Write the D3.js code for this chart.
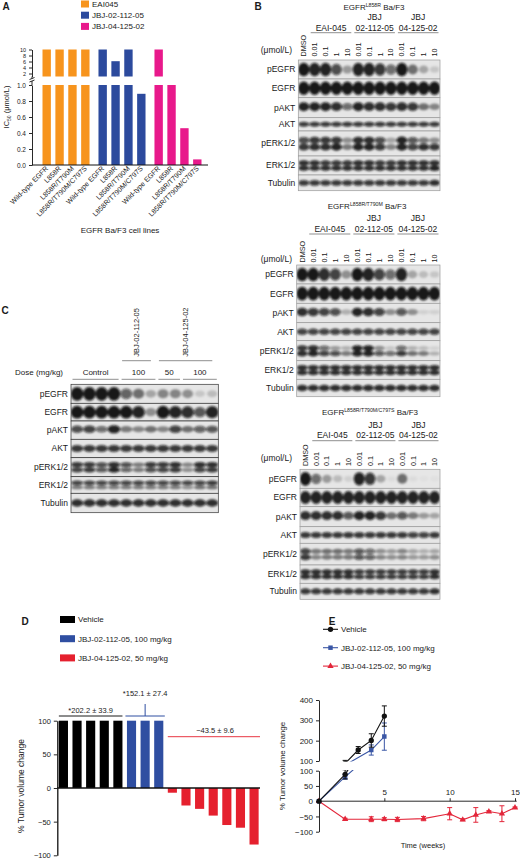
<!DOCTYPE html>
<html>
<head>
<meta charset="utf-8">
<script src="https://cdn.jsdelivr.net/npm/d3@7"></script>
<style>
  body { margin: 0; background: #fff; }
  svg text { font-family: "Liberation Sans", Arial, Helvetica, sans-serif; fill: #1a1a1a; }
</style>
</head>
<body>
<svg id="fig" width="520" height="860"></svg>
<script>
// ---------- panel A data ----------
const cellLines = ['Wild-type EGFR', 'L858R', 'L858R/T790M', 'L858R/T790M/C797S'];
const compounds = ['EAI045', 'JBJ-02-112-05', 'JBJ-04-125-02'];
const ic50EAI = [10, 10, 10, 10];
const ic50JBJ02 = [10, 6.1, 10, 0.89];
const ic50JBJ04 = [10, 1.0, 0.46, 0.07];
const ic50UpperTicks = [2, 4, 6, 8, 10];
const ic50LowerTicks = [0, 0.2, 0.4, 0.6, 0.8, 1.0];

// ---------- western blots (band intensity 0..1 per lane) ----------
const blotRows = ['pEGFR', 'EGFR', 'pAKT', 'AKT', 'pERK1/2', 'ERK1/2', 'Tubulin'];
const lanesB = ['DMSO', '0.01', '0.1', '1', '10', '0.01', '0.1', '1', '10', '0.01', '0.1', '1', '10'];
const groupsB = [
  { top: '', name: 'EAI-045', from: 1, to: 4 },
  { top: 'JBJ', name: '02-112-05', from: 5, to: 8 },
  { top: 'JBJ', name: '04-125-02', from: 9, to: 12 }
];
// rows: pEGFR, EGFR, pAKT, AKT, pERK (upper), ERK (upper), Tubulin
const l858rBands = [
  [1.0, 0.95, 0.95, 0.75, 0.35, 0.95, 0.95, 0.85, 0.6, 1.0, 0.55, 0.3, 0.15],
  [1.0, 1.0, 1.0, 1.0, 1.0, 1.0, 1.0, 1.0, 1.0, 1.0, 1.0, 1.0, 1.0],
  [0.95, 0.95, 0.95, 0.9, 0.6, 0.95, 0.9, 0.9, 0.85, 0.9, 0.85, 0.55, 0.45],
  [0.85, 0.85, 0.85, 0.85, 0.85, 0.85, 0.85, 0.85, 0.85, 0.85, 0.85, 0.85, 0.85],
  [0.75, 0.85, 0.85, 0.85, 0.4, 0.9, 0.9, 0.75, 0.3, 0.95, 0.7, 0.5, 0.4],
  [0.9, 0.9, 0.85, 0.85, 0.85, 0.9, 0.9, 0.85, 0.85, 0.9, 0.9, 0.9, 0.9],
  [0.85, 0.85, 0.85, 0.85, 0.85, 0.85, 0.85, 0.85, 0.85, 0.85, 0.85, 0.85, 0.9]
];
const l858rLower = [
  [0.85, 0.9, 0.9, 0.95, 0.5, 0.95, 0.95, 0.85, 0.45, 0.95, 0.8, 0.9, 0.85],
  [0.9, 0.9, 0.9, 0.9, 0.9, 0.9, 0.9, 0.9, 0.9, 0.9, 0.9, 0.9, 0.95]
];
const t790mBands = [
  [1.0, 1.0, 0.9, 0.8, 0.4, 1.0, 0.95, 0.8, 0.6, 0.95, 0.3, 0.2, 0.15],
  [1.0, 1.0, 1.0, 1.0, 1.0, 1.0, 1.0, 1.0, 1.0, 1.0, 1.0, 1.0, 1.0],
  [0.9, 0.85, 0.8, 0.75, 0.25, 0.95, 0.9, 0.8, 0.4, 0.7, 0.4, 0.1, 0.1],
  [0.8, 0.8, 0.8, 0.8, 0.8, 0.8, 0.8, 0.8, 0.8, 0.8, 0.8, 0.8, 0.8],
  [0.85, 0.9, 0.6, 0.35, 0.25, 0.95, 0.95, 0.4, 0.15, 0.6, 0.25, 0.2, 0.1],
  [0.9, 0.9, 0.9, 0.9, 0.9, 0.9, 0.9, 0.9, 0.9, 0.9, 0.9, 0.9, 0.9],
  [0.9, 0.9, 0.9, 0.9, 0.9, 0.9, 0.9, 0.9, 0.9, 0.9, 0.9, 0.9, 0.9]
];
const t790mLower = [
  [0.9, 0.95, 0.8, 0.75, 0.5, 0.95, 0.95, 0.7, 0.6, 0.85, 0.55, 0.5, 0.25],
  [0.9, 0.9, 0.9, 0.9, 0.9, 0.9, 0.9, 0.9, 0.9, 0.9, 0.9, 0.9, 0.9]
];
const c797sBands = [
  [1.0, 0.6, 0.35, 0.2, 0.1, 0.95, 0.85, 0.3, 0.05, 0.55, 0.05, 0.03, 0.03],
  [0.95, 0.95, 0.95, 0.95, 0.95, 0.95, 0.95, 0.95, 0.95, 0.95, 0.95, 0.95, 0.95],
  [0.9, 0.9, 0.9, 0.9, 0.7, 0.95, 0.95, 0.85, 0.55, 0.7, 0.5, 0.35, 0.3],
  [0.85, 0.85, 0.85, 0.85, 0.85, 0.85, 0.85, 0.85, 0.85, 0.85, 0.8, 0.8, 0.85],
  [0.8, 0.5, 0.55, 0.55, 0.5, 0.7, 0.6, 0.4, 0.35, 0.45, 0.3, 0.25, 0.3],
  [0.9, 0.9, 0.9, 0.9, 0.9, 0.85, 0.85, 0.85, 0.85, 0.85, 0.85, 0.85, 0.9],
  [0.85, 0.85, 0.85, 0.85, 0.85, 0.85, 0.85, 0.85, 0.85, 0.85, 0.85, 0.85, 0.9]
];
const c797sLower = [
  [0.85, 0.45, 0.5, 0.5, 0.5, 0.7, 0.65, 0.45, 0.4, 0.45, 0.35, 0.35, 0.4],
  [0.9, 0.9, 0.9, 0.9, 0.9, 0.85, 0.85, 0.85, 0.85, 0.85, 0.85, 0.85, 0.9]
];

// panel C (xenograft lysates)
const dosesC = [
  { name: 'Control', from: 0, to: 3 },
  { name: '100', from: 4, to: 6 },
  { name: '50', from: 7, to: 8 },
  { name: '100', from: 9, to: 11 }
];
const drugsC = [
  { name: 'JBJ-02-112-05', from: 4, to: 6 },
  { name: 'JBJ-04-125-02', from: 7, to: 11 }
];
const tumorBands = [
  [1.0, 1.0, 1.0, 1.0, 0.65, 0.55, 0.3, 0.45, 0.45, 0.4, 0.15, 0.2],
  [1.0, 1.0, 1.0, 1.0, 1.0, 0.95, 0.4, 1.0, 0.95, 0.9, 0.7, 0.95],
  [0.75, 0.8, 0.6, 0.95, 0.5, 0.45, 0.55, 0.45, 0.8, 0.55, 0.65, 0.7],
  [0.85, 0.85, 0.85, 0.85, 0.85, 0.85, 0.85, 0.85, 0.85, 0.85, 0.85, 0.85],
  [0.85, 0.85, 0.75, 0.9, 0.75, 0.5, 0.85, 0.85, 0.9, 0.45, 0.9, 0.9],
  [0.8, 0.8, 0.8, 0.8, 0.8, 0.8, 0.8, 0.8, 0.8, 0.8, 0.8, 0.85],
  [0.9, 0.9, 0.9, 0.9, 0.9, 0.9, 0.9, 0.9, 0.9, 0.9, 0.9, 0.9]
];
const tumorLower = [
  [0.8, 0.85, 0.7, 0.95, 0.65, 0.5, 0.75, 0.8, 0.85, 0.4, 0.8, 0.85],
  [0.5, 0.5, 0.5, 0.5, 0.5, 0.5, 0.5, 0.5, 0.5, 0.4, 0.55, 0.55]
];

// ---------- panel D data (waterfall, capped at 100) ----------
const vehicleChange = [100, 100, 100, 100, 100];
const jbj02Change = [100, 100, 100];
const jbj04Change = [-7, -26, -31, -41, -55, -59, -84];
const dTicks = [100, 50, 0, -50, -100];

// ---------- panel E data ----------
const vehicleWeeks = [0, 2, 3, 4, 5];
const vehicleMean = [0, 88, 154, 201, 321];
const vehicleErr = [0, 15, 17, 33, 50];
const jbj02Weeks = [0, 2, 4, 5];
const jbj02Mean = [0, 80, 154, 220];
const jbj02Err = [0, 8, 25, 67];
const jbj04Weeks = [0, 2, 4, 5, 6, 8, 10, 11, 12, 13, 14, 15];
const jbj04Mean = [0, -59, -59, -59, -60, -57, -41, -61, -45, -34, -41, -21];
const jbj04Err = [0, 3, 8, 5, 7, 7, 20, 3, 24, 3, 26, 2];
const eUpperTicks = [100, 200, 300, 400];
const eLowerTicks = [-100, -50, 0, 50, 100];
const eWeekTicks = [5, 10, 15];

// ======================================================
const svg = d3.select('#fig');
const defs = svg.append('defs');
defs.append('filter').attr('id', 'blur')
  .attr('x', '-50%').attr('y', '-50%').attr('width', '200%').attr('height', '200%')
  .append('feGaussianBlur').attr('stdDeviation', 1.05);

let clipCount = 0;
function addClip(x, y, w, h) {
  const id = 'clip' + (clipCount++);
  defs.append('clipPath').attr('id', id)
    .append('rect').attr('x', x).attr('y', y).attr('width', w).attr('height', h);
  return `url(#${id})`;
}

// text centred vertically on yc
function addText(g, x, yc, str, size, anchor) {
  return g.append('text')
    .attr('x', x).attr('y', yc + size * 0.35)
    .attr('font-size', size)
    .attr('text-anchor', anchor || 'start')
    .text(str);
}

function styleAxis(g, size) {
  g.attr('font-family', null).attr('font-size', null);
  g.selectAll('text').attr('font-size', size);
  g.selectAll('path, line').attr('stroke', '#111').attr('stroke-width', 0.9);
}

function panelLetter(x, y, s) {
  addText(svg, x, y, s, 10, 'middle').attr('font-weight', 'bold');
}

panelLetter(6, 6, 'A');
panelLetter(258, 6, 'B');
panelLetter(5, 310, 'C');
panelLetter(25, 621, 'D');
panelLetter(332, 621, 'E');

// ---------------- Panel A ----------------
const gA = svg.append('g');
const colorsA = ['#f7941d', '#2c4a9d', '#e8198b'];
const ic50 = [ic50EAI, ic50JBJ02, ic50JBJ04];

const xGroup = d3.scaleBand().domain(compounds).range([42.5, 201.5]).paddingInner(0.16);
const xLine = d3.scaleBand().domain(cellLines).range([0, xGroup.bandwidth()]).paddingInner(0.35);
const yLow = d3.scaleLinear().domain([0, 1]).range([165, 85]);
const yUp = d3.scaleLinear().domain([1, 10]).range([76.5, 49.5]);

compounds.forEach((c, ci) => {
  cellLines.forEach((cl, li) => {
    const v = ic50[ci][li];
    const x = xGroup(c) + xLine(cl);
    gA.append('rect')
      .attr('x', x).attr('width', xLine.bandwidth())
      .attr('y', yLow(Math.min(v, 1))).attr('height', yLow(0) - yLow(Math.min(v, 1)))
      .attr('fill', colorsA[ci]);
    if (v > 1) {
      gA.append('rect')
        .attr('x', x).attr('width', xLine.bandwidth())
        .attr('y', yUp(v)).attr('height', yUp(1) - yUp(v))
        .attr('fill', colorsA[ci]);
    }
    gA.append('text')
      .attr('transform', `translate(${x + xLine.bandwidth() / 2 + 2},169) rotate(-45)`)
      .attr('text-anchor', 'end').attr('font-size', 7)
      .text(cl);
  });
});

const axLow = gA.append('g').attr('transform', 'translate(32,0)')
  .call(d3.axisLeft(yLow).tickValues(ic50LowerTicks).tickFormat(d3.format('.1f')).tickSize(3).tickSizeOuter(0));
styleAxis(axLow, 6.5);
const axUp = gA.append('g').attr('transform', 'translate(32,0)')
  .call(d3.axisLeft(yUp).tickValues(ic50UpperTicks).tickSize(3).tickSizeOuter(0));
styleAxis(axUp, 5.5);
// axis break
gA.append('path').attr('d', 'M32,76.5 L32,78.5 M29.5,79.5 L34.5,77.5 M29.5,82 L34.5,80 M32,81 L32,85')
  .attr('stroke', '#111').attr('stroke-width', 0.9).attr('fill', 'none');
gA.append('line').attr('x1', 32).attr('x2', 208).attr('y1', 165).attr('y2', 165)
  .attr('stroke', '#111').attr('stroke-width', 1);

const yTitleA = gA.append('text')
  .attr('transform', 'translate(9,107) rotate(-90)')
  .attr('text-anchor', 'middle').attr('font-size', 7.5);
yTitleA.append('tspan').text('IC');
yTitleA.append('tspan').attr('font-size', 5).attr('dy', 1.5).text('50');
yTitleA.append('tspan').attr('dy', -1.5).text(' (μmol/L)');
addText(gA, 120, 230, 'EGFR Ba/F3 cell lines', 8, 'middle');

compounds.forEach((c, i) => {
  const y = 4 + i * 11.2;
  gA.append('rect').attr('x', 81).attr('y', y - 3.5).attr('width', 8).attr('height', 7).attr('fill', colorsA[i]);
  addText(gA, 92, y, c, 8, 'start');
});

// ---------------- Blots ----------------
const rowKinds = ['blob', 'blob', 'mid', 'thin', 'double', 'double', 'thin'];

function drawBlot(x0, x1, top, heights, bands, lower, stroke, labelSize) {
  const g = svg.append('g');
  const lane = d3.scaleBand().domain(d3.range(bands[0].length)).range([x0, x1]);
  const bw = lane.bandwidth();
  let y = top;
  blotRows.forEach((name, r) => {
    const h = heights[r];
    g.append('rect').attr('x', x0).attr('y', y).attr('width', x1 - x0).attr('height', h)
      .attr('fill', '#e6e6e6');
    const rg = g.append('g').attr('clip-path', addClip(x0, y, x1 - x0, h)).attr('filter', 'url(#blur)');
    const kind = rowKinds[r];
    bands[r].forEach((v, i) => {
      const cx = lane(i) + bw / 2;
      if (kind === 'double') {
        const lo = lower[r - 4][i];
        rg.append('ellipse').attr('cx', cx).attr('cy', y + h * 0.37)
          .attr('rx', bw * 0.5).attr('ry', h * (0.09 + 0.06 * v))
          .attr('fill', '#0c0c0c').attr('opacity', v * 0.95);
        rg.append('ellipse').attr('cx', cx).attr('cy', y + h * 0.64)
          .attr('rx', bw * 0.5).attr('ry', h * (0.09 + 0.06 * lo))
          .attr('fill', '#0c0c0c').attr('opacity', lo * 0.95);
      } else {
        let rx, ry, cy;
        if (kind === 'blob') { rx = bw * (0.4 + 0.12 * v); ry = h * (0.14 + 0.22 * v); cy = y + h * 0.5; }
        else if (kind === 'mid') { rx = bw * 0.5; ry = h * (0.11 + 0.12 * v); cy = y + h * 0.45; }
        else { rx = bw * 0.5; ry = h * (0.11 + 0.09 * v); cy = y + h * 0.5; }
        rg.append('ellipse').attr('cx', cx).attr('cy', cy).attr('rx', rx).attr('ry', ry)
          .attr('fill', '#0c0c0c').attr('opacity', v * 0.95);
      }
    });
    g.append('rect').attr('x', x0).attr('y', y).attr('width', x1 - x0).attr('height', h)
      .attr('fill', 'none').attr('stroke', stroke).attr('stroke-width', 0.7);
    addText(g, x0 - 3, y + h / 2, name, labelSize, 'end');
    y += h;
  });
  return lane;
}

function headerB(lane, sup, cx, ys) {
  const g = svg.append('g');
  const t = g.append('text').attr('x', cx).attr('y', ys.title + 2.8)
    .attr('font-size', 8).attr('text-anchor', 'middle');
  t.append('tspan').text('EGFR');
  t.append('tspan').attr('font-size', 5.2).attr('dy', -2.8).text(sup);
  t.append('tspan').attr('dy', 2.8).text(' Ba/F3');
  groupsB.forEach(grp => {
    const a = lane(grp.from), b = lane(grp.to) + lane.bandwidth();
    if (grp.top) addText(g, (a + b) / 2, ys.jbj, grp.top, 8.5, 'middle');
    addText(g, (a + b) / 2, ys.name, grp.name, 8.5, 'middle');
    g.append('line').attr('x1', a + 1.5).attr('x2', b - 1.5).attr('y1', ys.line).attr('y2', ys.line)
      .attr('stroke', '#444').attr('stroke-width', 0.6);
  });
  addText(g, 292, ys.unit, '(μmol/L)', 8.5, 'end');
  g.selectAll('text.lane').data(lanesB).join('text').attr('class', 'lane')
    .attr('transform', (d, i) => `translate(${lane(i) + lane.bandwidth() / 2},${ys.lanes}) rotate(-90)`)
    .attr('dy', '0.35em').attr('font-size', 7.2).text(d => d);
}

const laneB1 = drawBlot(298.3, 440, 60, [19, 18.7, 20, 13.3, 25, 19, 15.7], l858rBands, l858rLower, '#9a9a9a', 8.5);
headerB(laneB1, 'L858R', 374, { title: 6.7, jbj: 16.7, name: 28.3, line: 32.7, unit: 50, lanes: 56.5 });

const laneB2 = drawBlot(296.7, 440, 265, [19, 19.3, 19.4, 18, 20, 18.6, 17.4], t790mBands, t790mLower, '#9a9a9a', 8.5);
headerB(laneB2, 'L858R/T790M', 367, { title: 206, jbj: 218.3, name: 229.3, line: 234, unit: 259.5, lanes: 262.5 });

const laneB3 = drawBlot(300, 440, 469.3, [19, 18.4, 20, 16.6, 21.7, 18.3, 16], c797sBands, c797sLower, '#9a9a9a', 8.5);
headerB(laneB3, 'L858R/T790M/C797S', 370, { title: 411.7, jbj: 425, name: 435, line: 440.7, unit: 457.7, lanes: 466 });

// ---------------- Panel C ----------------
const laneC = drawBlot(71, 218.3, 384.3, [19, 17.7, 18.3, 18.4, 19, 16.6, 19.4], tumorBands, tumorLower, '#333', 8.5);
const gC = svg.append('g');
drugsC.forEach(dr => {
  const a = laneC(dr.from), b = laneC(dr.to) + laneC.bandwidth();
  gC.append('line').attr('x1', a + 2).attr('x2', b - 6).attr('y1', 360.7).attr('y2', 360.7)
    .attr('stroke', '#444').attr('stroke-width', 0.6);
  gC.append('text')
    .attr('transform', `translate(${(a + b) / 2 - 2},356.7) rotate(-90)`)
    .attr('dy', '0.35em').attr('font-size', 7.5).text(dr.name);
});
dosesC.forEach(ds => {
  const a = laneC(ds.from), b = laneC(ds.to) + laneC.bandwidth();
  addText(gC, (a + b) / 2, 371.7, ds.name, 8, 'middle');
  gC.append('line').attr('x1', a + 1.5).attr('x2', b - 1.5).attr('y1', 379.3).attr('y2', 379.3)
    .attr('stroke', '#444').attr('stroke-width', 0.6);
});
addText(gC, 63, 371.7, 'Dose (mg/kg)', 8, 'end');

// ---------------- Panel D ----------------
const gD = svg.append('g');
const colorsD = ['#000000', '#2f4ea1', '#e5202e'];
const dLegend = ['Vehicle', 'JBJ-02-112-05, 100 mg/kg', 'JBJ-04-125-02, 50 mg/kg'];
const dBars = [];
[vehicleChange, jbj02Change, jbj04Change].forEach((arr, gi) => arr.forEach(v => dBars.push({ g: gi, v: v })));

const xD = d3.scaleBand().domain(d3.range(dBars.length)).range([57.5, 260]).paddingInner(0.33).paddingOuter(0.1);
const yD = d3.scaleLinear().domain([-100, 100]).range([855.3, 720.7]);

gD.selectAll('rect.bar').data(dBars).join('rect').attr('class', 'bar')
  .attr('x', (d, i) => xD(i)).attr('width', xD.bandwidth())
  .attr('y', d => yD(Math.max(0, d.v)))
  .attr('height', d => Math.abs(yD(d.v) - yD(0)))
  .attr('fill', d => colorsD[d.g]);

const axD = gD.append('g').attr('transform', 'translate(57.3,0)')
  .call(d3.axisLeft(yD).tickValues(dTicks).tickSize(3.5).tickSizeOuter(0));
styleAxis(axD, 7.5);
axD.select('.domain').attr('stroke-width', 1.3);
gD.append('line').attr('x1', 57.3).attr('x2', 260).attr('y1', yD(0)).attr('y2', yD(0))
  .attr('stroke', '#111').attr('stroke-width', 1.3);
gD.append('text').attr('transform', 'translate(24,786) rotate(-90)')
  .attr('text-anchor', 'middle').attr('font-size', 8.5).text('% Tumor volume change');

dLegend.forEach((s, i) => {
  const y = 619.5 + i * 19.2;
  gD.append('rect').attr('x', 60).attr('y', y - 3.5).attr('width', 15).attr('height', 7).attr('fill', colorsD[i]);
  addText(gD, 78, y, s, 8, 'start');
});

// group annotations
const vA = xD(0), vB = xD(vehicleChange.length - 1) + xD.bandwidth();
gD.append('line').attr('x1', vA).attr('x2', vB).attr('y1', 716).attr('y2', 716)
  .attr('stroke', '#000').attr('stroke-width', 0.9);
addText(gD, (vA + vB) / 2, 710, '*202.2 ± 33.9', 7.5, 'middle');
const jA = xD(5) - 1.5, jB = xD(7) + xD.bandwidth() + 1.5;
gD.append('path').attr('d', `M${jA},716 L${jB},716 M${(jA + jB) / 2},716 L${(jA + jB) / 2},704`)
  .attr('stroke', colorsD[1]).attr('stroke-width', 1).attr('fill', 'none');
addText(gD, (jA + jB) / 2, 693.3, '*152.1 ±  27.4', 7.5, 'middle');
const rA = xD(8);
gD.append('line').attr('x1', rA).attr('x2', 260).attr('y1', 736.7).attr('y2', 736.7)
  .attr('stroke', colorsD[2]).attr('stroke-width', 0.9);
addText(gD, 215, 730.5, '−43.5 ± 9.6', 7.5, 'middle');

// ---------------- Panel E ----------------
const gE = svg.append('g');
const xE = d3.scaleLinear().domain([0, 15]).range([319, 515]);
const yEUp = d3.scaleLinear().domain([100, 400]).range([761, 700]);
const yELow = d3.scaleLinear().domain([-100, 100]).range([831.7, 770.7]);

const seriesE = [
  { name: 'JBJ-04-125-02, 50 mg/kg', w: jbj04Weeks, m: jbj04Mean, e: jbj04Err, color: '#e3263a', sym: d3.symbolTriangle, size: 17 },
  { name: 'JBJ-02-112-05, 100 mg/kg', w: jbj02Weeks, m: jbj02Mean, e: jbj02Err, color: '#3a56a5', sym: d3.symbolSquare, size: 20 },
  { name: 'Vehicle', w: vehicleWeeks, m: vehicleMean, e: vehicleErr, color: '#111111', sym: d3.symbolCircle, size: 22 }
];

function drawSegment(yS, clip) {
  const seg = gE.append('g').attr('clip-path', clip);
  seriesE.forEach(s => {
    const pts = s.w.map((w, i) => ({ x: w, y: s.m[i], e: s.e[i] }));
    seg.append('path').datum(pts)
      .attr('d', d3.line().x(d => xE(d.x)).y(d => yS(d.y)))
      .attr('fill', 'none').attr('stroke', s.color).attr('stroke-width', 1.1);
    pts.forEach(p => {
      if (p.e <= 0) return;
      const cx = xE(p.x), t = yS(p.y + p.e), b = yS(p.y - p.e);
      seg.append('path').attr('d', `M${cx},${t} L${cx},${b} M${cx - 2.5},${t} L${cx + 2.5},${t} M${cx - 2.5},${b} L${cx + 2.5},${b}`)
        .attr('stroke', s.color).attr('stroke-width', 1).attr('fill', 'none');
    });
    seg.selectAll(null).data(pts).join('path')
      .attr('transform', d => `translate(${xE(d.x)},${yS(d.y)})`)
      .attr('d', d3.symbol().type(s.sym).size(s.size))
      .attr('fill', s.color);
  });
}
drawSegment(yEUp, addClip(300, 690, 220, 71.5));
drawSegment(yELow, addClip(300, 770, 220, 70));

const axEUp = gE.append('g').attr('transform', 'translate(319,0)')
  .call(d3.axisLeft(yEUp).tickValues(eUpperTicks).tickSize(3).tickSizeOuter(0));
styleAxis(axEUp, 8);
const axELow = gE.append('g').attr('transform', 'translate(319,0)')
  .call(d3.axisLeft(yELow).tickValues(eLowerTicks).tickSize(3).tickSizeOuter(0).tickFormat(d3.format('d')));
styleAxis(axELow, 8);
const axEX = gE.append('g').attr('transform', `translate(0,${yELow(0)})`)
  .call(d3.axisTop(xE).tickValues(eWeekTicks).tickSize(3).tickSizeOuter(0));
styleAxis(axEX, 8);
axEX.select('.domain').attr('d', `M319,0 L516.7,0`);
gE.append('text').attr('transform', 'translate(285,766) rotate(-90)')
  .attr('text-anchor', 'middle').attr('font-size', 8).text('% Tumor volume change');
addText(gE, 423, 845, 'Time (weeks)', 7.5, 'middle');

seriesE.slice().reverse().forEach((s, i) => {
  const y = 629.3 + i * 18.4;
  gE.append('line').attr('x1', 323).attr('x2', 338).attr('y1', y).attr('y2', y)
    .attr('stroke', s.color).attr('stroke-width', 1.1);
  gE.append('path').attr('transform', `translate(330.5,${y})`)
    .attr('d', d3.symbol().type(s.sym).size(s.size)).attr('fill', s.color);
  addText(gE, 341, y, s.name, 8, 'start');
});
</script>
</body>
</html>
